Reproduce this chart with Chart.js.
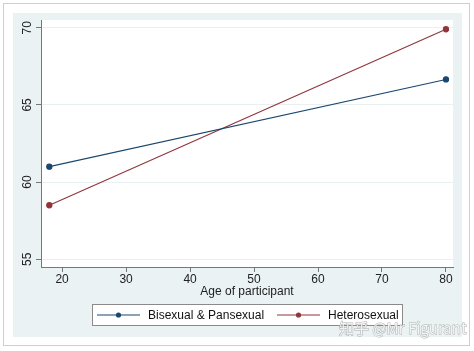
<!DOCTYPE html>
<html>
<head>
<meta charset="utf-8">
<script src="https://cdn.jsdelivr.net/npm/chart.js@4.4.0/dist/chart.umd.min.js"></script>
<style>
  html, body { margin: 0; padding: 0; background: #ffffff; }
  #wrap { width: 474px; height: 351px; }
</style>
</head>
<body>
<div id="wrap"><canvas id="c" width="474" height="351"></canvas></div>
<script>
// ---- Data ----
const ages = [18, 80];
const bisexualPansexual = [61.0, 66.65];
const heterosexual = [58.5, 69.9];
const seriesLabels = ['Bisexual & Pansexual', 'Heterosexual'];
const xTicks = [20, 30, 40, 50, 60, 70, 80];
const yTicks = [55, 60, 65, 70];
const xTitle = 'Age of participant';
const watermark = '知乎 @Mr Figurant';

const colors = ['#1a476f', '#90353b'];
const FONT = '"Liberation Sans", Arial, sans-serif';

function toPoints(xs, ys) { return xs.map((x, i) => ({ x: x, y: ys[i] })); }

const bgPlugin = {
  id: 'bg',
  beforeDraw(chart) {
    const ctx = chart.ctx, a = chart.chartArea;
    ctx.save();
    ctx.fillStyle = '#ffffff';
    ctx.fillRect(0, 0, chart.width, chart.height);
    ctx.strokeStyle = '#cfcfcf';
    ctx.lineWidth = 1;
    ctx.strokeRect(3.5, 3.5, 466, 342);
    ctx.fillStyle = '#eaf2f3';
    ctx.fillRect(13, 13, 449, 324);
    ctx.fillStyle = '#ffffff';
    ctx.fillRect(a.left, a.top, a.right - a.left, a.bottom - a.top);
    ctx.restore();
  },
  afterDraw(chart) {
    const ctx = chart.ctx;
    const ys = chart.scales.y;
    ctx.save();
    // rotated y tick labels
    ctx.fillStyle = '#222';
    ctx.font = '12px ' + FONT;
    ctx.textAlign = 'center';
    ctx.textBaseline = 'middle';
    yTicks.forEach(v => {
      const py = ys.getPixelForValue(v);
      ctx.save();
      ctx.translate(28, py);
      ctx.rotate(-Math.PI / 2);
      ctx.fillText(String(v), 0, 0);
      ctx.restore();
    });
    // legend box
    ctx.fillStyle = '#ffffff';
    ctx.fillRect(92, 304, 310, 21);
    ctx.strokeStyle = '#8a8a8a';
    ctx.lineWidth = 1;
    ctx.strokeRect(92.5, 304.5, 310, 21);
    const items = [
      { x0: 97, x1: 140, tx: 148 },
      { x0: 277, x1: 320, tx: 328 }
    ];
    const ly = 315;
    chart.data.datasets.forEach((ds, i) => {
      const it = items[i];
      ctx.strokeStyle = ds.borderColor;
      ctx.lineWidth = 1.2;
      ctx.beginPath();
      ctx.moveTo(it.x0, ly);
      ctx.lineTo(it.x1, ly);
      ctx.stroke();
      ctx.fillStyle = ds.pointBackgroundColor;
      ctx.beginPath();
      ctx.arc((it.x0 + it.x1) / 2, ly, 2.6, 0, Math.PI * 2);
      ctx.fill();
      ctx.fillStyle = '#111';
      ctx.font = '12px ' + FONT;
      ctx.textAlign = 'left';
      ctx.textBaseline = 'middle';
      ctx.fillText(ds.label, it.tx, ly + 0.5);
    });
    // watermark
    ctx.font = '15px "Noto Sans CJK SC", sans-serif';
    ctx.textAlign = 'left';
    ctx.textBaseline = 'middle';
    ctx.lineWidth = 1;
    ctx.strokeStyle = 'rgba(150,150,150,0.7)';
    ctx.strokeText(watermark, 339, 328);
    ctx.fillStyle = 'rgba(250,250,250,0.9)';
    ctx.fillText(watermark, 339, 328);
    ctx.restore();
  }
};

new Chart(document.getElementById('c'), {
  type: 'line',
  data: {
    datasets: [
      {
        label: seriesLabels[0],
        data: toPoints(ages, bisexualPansexual),
        borderColor: colors[0],
        backgroundColor: colors[0],
        pointBackgroundColor: colors[0],
        pointBorderColor: colors[0],
        borderWidth: 1.1,
        pointRadius: 2.6,
        tension: 0,
        clip: false
      },
      {
        label: seriesLabels[1],
        data: toPoints(ages, heterosexual),
        borderColor: colors[1],
        backgroundColor: colors[1],
        pointBackgroundColor: colors[1],
        pointBorderColor: colors[1],
        borderWidth: 1.1,
        pointRadius: 2.6,
        tension: 0,
        clip: false
      }
    ]
  },
  options: {
    responsive: false,
    animation: false,
    devicePixelRatio: 1,
    layout: { padding: { left: 0, top: 20, right: 21, bottom: 0 } },
    plugins: { legend: { display: false }, tooltip: { enabled: false } },
    scales: {
      x: {
        type: 'linear',
        min: 16.7,
        max: 81.1,
        afterBuildTicks(s) { s.ticks = xTicks.map(v => ({ value: v })); },
        afterFit(s) { s.height = 84; },
        grid: { drawOnChartArea: false, drawTicks: true, tickLength: 5, tickColor: '#777', color: '#777' },
        border: { display: true, color: '#777', width: 1 },
        ticks: { color: '#222', font: { size: 12, family: FONT }, padding: 0, maxRotation: 0 },
        title: { display: true, text: xTitle, color: '#222', font: { size: 12, family: FONT }, padding: { top: 0, bottom: 52 } }
      },
      y: {
        type: 'linear',
        min: 54.5,
        max: 70.5,
        afterBuildTicks(s) { s.ticks = yTicks.map(v => ({ value: v })); },
        afterFit(s) { s.width = 41; },
        grid: { drawOnChartArea: true, drawTicks: true, tickLength: 5, tickColor: '#777', color: '#e9f0f1' },
        border: { display: true, color: '#777', width: 1 },
        ticks: { display: false }
      }
    }
  },
  plugins: [bgPlugin]
});
</script>
</body>
</html>
